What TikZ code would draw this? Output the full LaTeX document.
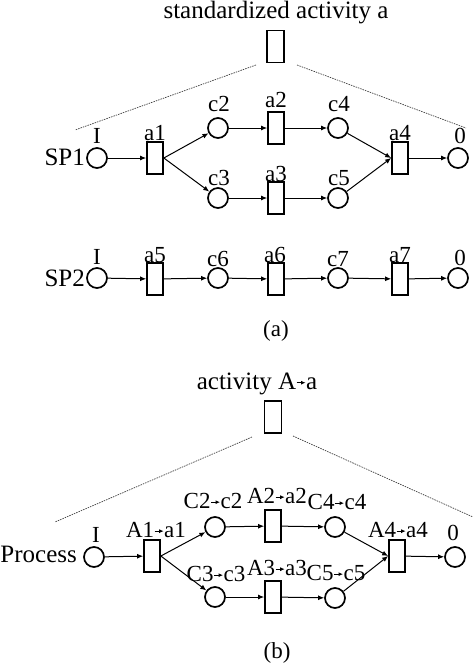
\documentclass[tikz,border=0pt]{standalone}
\usepackage{fontspec}
\setmainfont{Liberation Serif}
\usetikzlibrary{arrows.meta}

\tikzset{every picture/.style={line width=0.75pt}}
\tikzset{
  place/.style={draw,circle,line width=1.7pt,minimum size=20pt,inner sep=0pt},
  trans/.style={draw,rectangle,line width=1.7pt,minimum width=16pt,minimum height=32pt,inner sep=0pt},
  arc/.style={line width=1pt,-{Latex[length=6pt,width=5pt]}},
  fan/.style={line width=0.7pt,dash pattern=on 1.5pt off 1pt,black!75},
  lbl/.style={font=\fontsize{23}{23}\selectfont,inner sep=0.75pt},
  big/.style={font=\fontsize{25}{25}\selectfont,inner sep=0.75pt},
}
\newcommand{\tinyarrow}{\tikz[baseline=-0.6ex]\draw[line width=1pt,-{Latex[length=4.5pt,width=4pt]}] (0pt,0pt) -- (9pt,0pt);}

\begin{document}
\begin{tikzpicture}[x=1pt,y=1pt,yscale=-1,xscale=1]
\useasboundingbox (0,0) rectangle (474,667);
%%% (a)
% Text Node
\node[big,inner sep=0pt] (ttla) at (276,12.5) {standardized activity a};
%Shape: Rectangle
\node[trans,minimum width=17pt] (acta) at (275.5,46.5) {};
%Dashed Lines
\coordinate (fanLa) at (75,130);
\coordinate (fanRa) at (466,128);
\draw[fan] (256,65) -- (fanLa);
\draw[fan] (297,65) -- (fanRa);
% SP1
\node[place] (i1) at (97,158) {};
\node[trans] (a1) at (155,158) {};
\node[place] (c2) at (218,128) {};
\node[trans] (a2) at (276,128) {};
\node[place] (c4) at (338,128) {};
\node[place] (c3) at (218,198) {};
\node[trans] (a3) at (276,198) {};
\node[place] (c5) at (338,198) {};
\node[trans] (a4) at (400,158) {};
\node[place] (o1) at (458,158) {};
\draw[arc] (i1) -- (a1);
\draw[arc] (a1.east) -- (c2);
\draw[arc] (a1.east) -- (c3);
\draw[arc] (c2) -- (a2);
\draw[arc] (a2) -- (c4);
\draw[arc] (c3) -- (a3);
\draw[arc] (a3) -- (c5);
\draw[arc] (c4) -- (a4.west);
\draw[arc] (c5) -- (a4.west);
\draw[arc] (a4) -- (o1);
% Text Node
\node[big,anchor=east] (tsp1) at (86,157) {SP1};
\node[lbl] (ti1) at (97,136) {I};
\node[lbl] (ta1) at (155,133) {a1};
\node[lbl] (tc2) at (219,104) {c2};
\node[lbl] (ta2) at (276,100) {a2};
\node[lbl] (tc4) at (339,104) {c4};
\node[lbl] (tc3) at (219,178) {c3};
\node[lbl] (ta3) at (276,174) {a3};
\node[lbl] (tc5) at (339,178) {c5};
\node[lbl] (ta4) at (400,133) {a4};
\node[lbl] (to1) at (460,136) {0};
% SP2
\node[place] (i2) at (97,278) {};
\node[trans] (a5) at (155,279) {};
\node[place] (c6) at (218,278) {};
\node[trans] (a6) at (276,279) {};
\node[place] (c7) at (338,278) {};
\node[trans] (a7) at (400,279) {};
\node[place] (o2) at (458,278) {};
\draw[arc] (i2) -- (a5);
\draw[arc] (a5) -- (c6);
\draw[arc] (c6) -- (a6);
\draw[arc] (a6) -- (c7);
\draw[arc] (c7) -- (a7);
\draw[arc] (a7) -- (o2);
% Text Node
\node[big,anchor=east] (tsp2) at (86,278) {SP2};
\node[lbl] (ti2) at (97,257) {I};
\node[lbl] (ta5) at (155,255) {a5};
\node[lbl] (tc6) at (218,259) {c6};
\node[lbl] (ta6) at (275,255) {a6};
\node[lbl] (tc7) at (338,259) {c7};
\node[lbl] (ta7) at (400,255) {a7};
\node[lbl] (to2) at (460,258) {0};
\node[lbl] (capa) at (276,331) {(a)};
%%% (b)
% Text Node
\node[big] (ttlb) at (257,384) {activity A\tinyarrow a};
%Shape: Rectangle
\node[trans,minimum width=17pt] (actb) at (273,417) {};
%Dashed Lines
\coordinate (fanLb) at (55,522);
\coordinate (fanRb) at (473,517);
\draw[fan] (252,437) -- (fanLb);
\draw[fan] (293,436) -- (fanRb);
% Process
\node[place] (i3) at (94,557) {};
\node[trans] (b1) at (152,556) {};
\node[place] (d2) at (215,527) {};
\node[trans] (b2) at (273,526) {};
\node[place] (d4) at (335,527) {};
\node[place] (d3) at (215,597) {};
\node[trans] (b3) at (273,597) {};
\node[place] (d5) at (335,598) {};
\node[trans] (b4) at (397,556) {};
\node[place] (o3) at (455,557) {};
\draw[arc] (i3) -- (b1);
\draw[arc] (b1.east) -- (d2);
\draw[arc] (b1.east) -- (d3);
\draw[arc] (d2) -- (b2);
\draw[arc] (b2) -- (d4);
\draw[arc] (d3) -- (b3);
\draw[arc] (b3) -- (d5);
\draw[arc] (d4) -- (b4.west);
\draw[arc] (d5) -- (b4.west);
\draw[arc] (b4) -- (o3);
% Text Node
\node[big,anchor=east] (tproc) at (78,554) {Process};
\node[lbl] (ti3) at (96,535) {I};
\node[lbl] (tb1) at (156,530) {A1\tinyarrow a1};
\node[lbl] (td2) at (213,501) {C2\tinyarrow c2};
\node[lbl] (tb2) at (277,496) {A2\tinyarrow a2};
\node[lbl] (td4) at (337,502) {C4\tinyarrow c4};
\node[lbl] (td3) at (216,574) {C3\tinyarrow c3};
\node[lbl] (tb3) at (277,568) {A3\tinyarrow a3};
\node[lbl] (td5) at (336,573) {C5\tinyarrow c5};
\node[lbl] (tb4) at (398,530) {A4\tinyarrow a4};
\node[lbl] (to3) at (453,533) {0};
\node[lbl] (capb) at (277,653) {(b)};
\end{tikzpicture}
\end{document}
